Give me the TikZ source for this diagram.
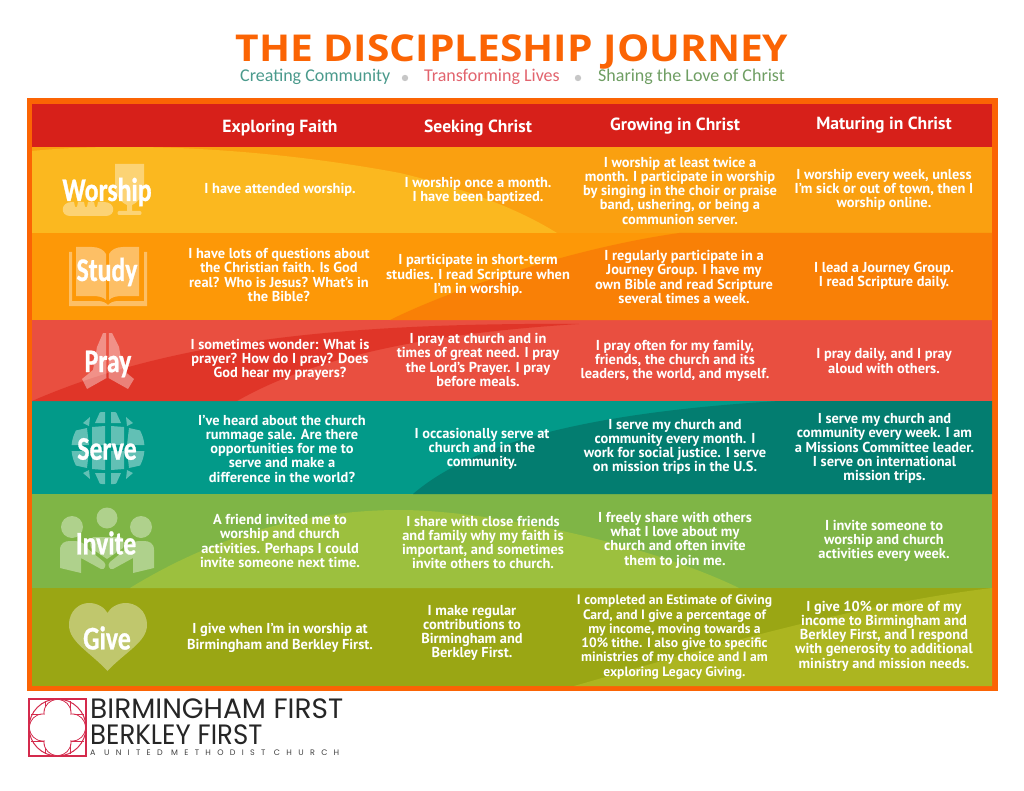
\documentclass[tikz,border=0pt]{standalone}
\usepackage{fontspec}
\setmainfont{PT Sans}
\newfontfamily\titlefont[FakeStretch=1.1]{Open Sans}
\newfontfamily\subfont{Carlito}
\newfontfamily\rowfont[FakeStretch=0.78,BoldFeatures={FakeBold=0.8}]{Carlito}
\newfontfamily\logofont{Poppins}
\newfontfamily\berkleyfont[FakeStretch=0.93]{Poppins}
\newfontfamily\smallfont[LetterSpace=79]{Poppins}
\definecolor{frameorange}{HTML}{FB6404}
\definecolor{headred}{HTML}{D7201A}
\definecolor{worshipA}{HTML}{FBB81F}
\definecolor{worshipB}{HTML}{FAA010}
\definecolor{studyA}{HTML}{FD9807}
\definecolor{studyB}{HTML}{F98006}
\definecolor{prayA}{HTML}{E94F40}
\definecolor{prayB}{HTML}{E03528}
\definecolor{serveA}{HTML}{029A89}
\definecolor{serveB}{HTML}{037D70}
\definecolor{inviteA}{HTML}{7FB546}
\definecolor{inviteB}{HTML}{9CC03E}
\definecolor{giveA}{HTML}{9AA614}
\definecolor{giveB}{HTML}{ACB520}
\definecolor{logored}{HTML}{D42A4C}
\definecolor{subteal}{HTML}{4A9A8C}
\definecolor{subred}{HTML}{E2646E}
\definecolor{subgreen}{HTML}{6F9E63}
\tikzset{
  celltext/.style={text=white,align=center,inner sep=0pt,yshift=-1pt,font=\fontsize{14.4}{14.25}\selectfont\bfseries},
  headtext/.style={text=white,inner sep=0pt,yshift=-1.5pt,font=\fontsize{17.6}{18}\selectfont\bfseries},
  rowtext/.style={text=white,inner sep=0pt,font=\rowfont\fontsize{33}{33}\selectfont\bfseries},
  iconshape/.style={fill=white,fill opacity=0.38,draw=none},
  subtext/.style={inner sep=0pt,font=\subfont\fontsize{18}{20}\selectfont},
  logotext/.style={inner sep=0pt,anchor=west,text=black!85,font=\logofont\fontsize{28}{28}\selectfont},
}
\begin{document}
\begin{tikzpicture}[x=1pt,y=-1pt]
  \useasboundingbox (0,0) rectangle (1024,791);
  \fill[white] (0,0) rectangle (1024,791);
  % frame and bands
  \fill[frameorange] (27,98) rectangle (998,691);
  \fill[worshipB] (32,147) rectangle (992,233);
  \fill[studyA] (32,233) rectangle (992,320);
  \fill[prayA] (32,320) rectangle (992,401);
  \fill[serveA] (32,401) rectangle (992,494);
  \fill[inviteA] (32,494) rectangle (992,588);
  \fill[giveA] (32,588) rectangle (992,686);
  \fill[worshipA] (32,151) .. controls (110,143) and (250,145) .. (400,173) .. controls (470,190) and (520,210) .. (557,233) -- (32,233) -- cycle;
  \fill[studyB] (390,320) .. controls (440,295) and (560,250) .. (679,233) -- (992,233) -- (992,320) -- cycle;
  \fill[prayB] (32,401) .. controls (150,350) and (300,322) .. (579,324) .. controls (400,335) and (300,365) .. (237,401) -- cycle;
  \fill[serveB] (413,494) .. controls (470,445) and (580,413) .. (779,401) -- (992,401) -- (992,494) -- cycle;
  \fill[inviteB] (130,588) .. controls (200,545) and (290,510) .. (400,510) .. controls (480,510) and (640,540) .. (739,588) -- cycle;
  \fill[giveB] (574,686) .. controls (700,650) and (850,605) .. (992,588) -- (992,686) -- cycle;
  \fill[headred] (32,104) rectangle (992,147);
  % title
  \node[inner sep=0pt,text=frameorange,font=\titlefont\fontsize{37}{37}\selectfont\bfseries] (title) at (512,52) {THE DISCIPLESHIP JOURNEY};
  \node[subtext,text=subteal,anchor=west] (creating) at (240,77) {Creating Community};
  \node[subtext,text=subred,anchor=west] (transforming) at (424,77) {Transforming Lives};
  \node[subtext,text=subgreen,anchor=west] (sharing) at (598,77) {Sharing the Love of Christ};
  \fill[black!22] (405,78) circle (3.2);
  \fill[black!22] (578,78) circle (3.2);
  % headers
  \node[headtext] (exploring) at (280,127) {Exploring Faith};
  \node[headtext] (seeking) at (478,127) {Seeking Christ};
  \node[headtext] (growing) at (675,125) {Growing in Christ};
  \node[headtext] (maturing) at (884,124) {Maturing in Christ};
  % icons
  \path[iconshape] (115,164) -- (144,164) -- (144,186) .. controls (144,196) and (137,203) .. (132,205) -- (132,211) -- (140,211) .. controls (142,211) and (142,215) .. (140,215) -- (119,215) .. controls (117,215) and (117,211) .. (119,211) -- (127,211) -- (127,205) .. controls (122,203) and (115,196) .. (115,186) -- cycle;
  \path[iconshape] (70,216) .. controls (60,216) and (60,202) .. (72,202) -- (74,202) -- (75,207) -- (77,207) -- (78,202) -- (84,202) -- (85,207) -- (87,207) -- (88,202) -- (94,202) -- (95,207) -- (97,207) -- (98,202) -- (104,202) .. controls (116,202) and (116,216) .. (106,216) -- cycle;
  \path[iconshape] (69,252) -- (72,252) -- (72,301) -- (98,301) .. controls (103,301) and (106,303) .. (108,305) .. controls (110,303) and (113,301) .. (118,301) -- (144,301) -- (144,252) -- (147,252) -- (147,306) -- (69,306) -- cycle;
  \path[iconshape] (76,247) -- (92,247) .. controls (99,247) and (104,250) .. (106,254) -- (106,300) .. controls (103,297) and (99,296) .. (92,296) -- (76,296) -- cycle;
  \path[iconshape] (139,247) -- (123,247) .. controls (116,247) and (111,250) .. (109,254) -- (109,300) .. controls (112,297) and (116,296) .. (123,296) -- (139,296) -- cycle;
  \path[iconshape] (103,333) -- (106,333) -- (106.5,378) -- (87,389) -- (82,379) -- (93,370) -- (97,347) -- cycle;
  \path[iconshape] (112,333) -- (109,333) -- (108.5,378) -- (128,389) -- (134,379) -- (123,370) -- (119,347) -- cycle;
  \begin{scope}
    \clip (108,448) circle (36.5);
    \path[iconshape] (95,423) -- (100,412) -- (105,412) -- (105,423) -- cycle;
    \path[iconshape] (121,423) -- (116,412) -- (111,412) -- (111,423) -- cycle;
    \path[iconshape] (83,423) -- (90,417) -- (89,426) -- cycle;
    \path[iconshape] (133,423) -- (126,417) -- (127,426) -- cycle;
    \path[iconshape] (60,434) -- (87,428) -- (89,445) -- (60,445) -- cycle;
    \path[iconshape] (92,427) -- (105,426) -- (105,445) -- (92,445) -- cycle;
    \path[iconshape] (111,426) -- (124,427) -- (124,445) -- (111,445) -- cycle;
    \path[iconshape] (129,428) -- (156,434) -- (156,445) -- (127,445) -- cycle;
    \path[iconshape] (60,462) -- (87,468) -- (89,451) -- (60,451) -- cycle;
    \path[iconshape] (92,469) -- (105,470) -- (105,451) -- (92,451) -- cycle;
    \path[iconshape] (111,470) -- (124,469) -- (124,451) -- (111,451) -- cycle;
    \path[iconshape] (129,468) -- (156,462) -- (156,451) -- (127,451) -- cycle;
    \path[iconshape] (95,473) -- (100,484) -- (105,484) -- (105,473) -- cycle;
    \path[iconshape] (121,473) -- (116,484) -- (111,484) -- (111,473) -- cycle;
    \path[iconshape] (83,473) -- (90,479) -- (89,470) -- cycle;
    \path[iconshape] (133,473) -- (126,479) -- (127,470) -- cycle;
  \end{scope}
  \path[iconshape] (72,527) circle (11);
  \path[iconshape] (107,518) circle (10.5);
  \path[iconshape] (141,527) circle (11);
  \path[iconshape] (60,568) -- (60,550) .. controls (60,543) and (65,541) .. (70,541) -- (75,541) .. controls (82,541) and (86,545) .. (88,549) -- (104,562) .. controls (107,565) and (105,570) .. (101,569) -- (81,558) -- (81,573) -- cycle;
  \path[iconshape] (154,568) -- (154,550) .. controls (154,543) and (149,541) .. (144,541) -- (139,541) .. controls (132,541) and (128,545) .. (126,549) -- (110,562) .. controls (107,565) and (109,570) .. (113,569) -- (133,558) -- (133,573) -- cycle;
  \path[iconshape] (93,537) -- (121,537) .. controls (124,540) and (124,545) .. (123,548) -- (107,559) -- (91,548) .. controls (90,545) and (90,540) .. (93,537) -- cycle;
  \path[iconshape] (107.5,671) .. controls (90,652) and (69,642) .. (69,625) .. controls (69,610) and (80,603) .. (89,603) .. controls (98,603) and (105,608) .. (107.5,613) .. controls (110,608) and (117,603) .. (126,603) .. controls (135,603) and (147,610) .. (147,625) .. controls (147,642) and (125,652) .. (107.5,671) -- cycle;
  % row names
  \node[rowtext] (worship) at (107,192) {Worship};
  \node[rowtext] (study) at (107,272) {Study};
  \node[rowtext] (pray) at (108,364) {Pray};
  \node[rowtext] (serve) at (107,449) {Serve};
  \node[rowtext] (invite) at (106,543) {Invite};
  \node[rowtext] (give) at (107,638) {Give};
  % cells
  \node[celltext] (worship1) at (280,189) {I have attended worship.};
  \node[celltext] (worship2) at (478,190) {I worship once a month.\\I have been baptized.};
  \node[celltext] (worship3) at (680,189.5) {I worship at least twice a\\month.  I participate in worship\\by singing in the choir or praise\\band, ushering, or being a\\communion server.};
  \node[celltext] (worship4) at (884,189) {I worship every week, unless\\I’m sick or out of town, then I\\worship online.};
  \node[celltext] (study1) at (279,274) {I have lots of questions about\\the Christian faith. Is God\\real? Who is Jesus? What’s in\\the Bible?};
  \node[celltext] (study2) at (478,274.5) {I participate in short-term\\studies. I read Scripture when\\I’m in worship.};
  \node[celltext] (study3) at (684,276) {I regularly participate in a\\Journey Group. I have my\\own Bible and read Scripture\\several times a week.};
  \node[celltext] (study4) at (884,275) {I lead a Journey Group.\\I read Scripture daily.};
  \node[celltext] (pray1) at (280,359) {I sometimes wonder: What is\\prayer? How do I pray? Does\\God hear my prayers?};
  \node[celltext] (pray2) at (478,359) {I pray at church and in\\times of great need. I pray\\the Lord’s Prayer. I pray\\before meals.};
  \node[celltext] (pray3) at (675,360) {I pray often for my family,\\friends, the church and its\\leaders, the world, and myself.};
  \node[celltext] (pray4) at (884,360) {I pray daily, and I pray\\[1pt]aloud with others.};
  \node[celltext] (serve1) at (282,447.5) {I’ve heard about the church\\rummage sale. Are there\\opportunities for me to\\serve and make a\\difference in the world?};
  \node[celltext] (serve2) at (482,448) {I occasionally serve at\\church and in the\\community.};
  \node[celltext] (serve3) at (675,446) {I serve my church and\\community every month.  I\\work for social justice.  I serve\\on mission trips in the U.S.};
  \node[celltext] (serve4) at (884.5,447.5) {I serve my church and\\community every week.  I am\\a Missions Committee leader.\\I serve on international\\mission trips.};
  \node[celltext] (invite1) at (280,540) {A friend invited me to\\worship and church\\activities.  Perhaps I could\\invite someone next time.};
  \node[celltext] (invite2) at (483,541.5) {I share with close friends\\and family why my faith is\\important, and sometimes\\invite others to church.};
  \node[celltext] (invite3) at (675,539) {I freely share with others\\what I love about my\\church and often invite\\them to join me.};
  \node[celltext] (invite4) at (884,540) {I invite someone to\\worship and church\\activities every week.};
  \node[celltext] (give1) at (280,637) {I give when I’m in worship at\\[2pt]Birmingham and Berkley First.};
  \node[celltext] (give2) at (472,632) {I make regular\\contributions to\\Birmingham and\\Berkley First.};
  \node[celltext,font=\fontsize{13.6}{14.25}\selectfont\bfseries] (give3) at (674.5,636) {I completed an Estimate of Giving\\Card, and I give a percentage of\\my income, moving towards a\\10\% tithe. I also give to specific\\ministries of my choice and I am\\exploring Legacy Giving.};
  \node[celltext] (give4) at (884,635) {I give 10\% or more of my\\income to Birmingham and\\Berkley First, and I respond\\with generosity to additional\\ministry and mission needs.};
  % logo
  \draw[logored,line width=1.3pt] (29,699) rectangle (86,756);
  \draw[logored,line width=1pt] (57.5,727.5) circle (28.5);
  \draw[logored,line width=1pt] (45,701) -- (45,714) -- (31,714);
  \draw[logored,line width=1pt] (70,701) -- (70,714) -- (84,714);
  \draw[logored,line width=1pt] (45,754) -- (45,741) -- (31,741);
  \draw[logored,line width=1pt] (70,754) -- (70,741) -- (84,741);
  \filldraw[draw=logored,fill=white,line width=1pt] (57.5,713) circle (13.5);
  \filldraw[draw=logored,fill=white,line width=1pt] (57.5,742) circle (13.5);
  \filldraw[draw=logored,fill=white,line width=1pt] (43,727.5) circle (13.5);
  \filldraw[draw=logored,fill=white,line width=1pt] (72,727.5) circle (13.5);
  \fill[white] (57.5,713) circle (13);
  \fill[white] (57.5,742) circle (13);
  \fill[white] (43,727.5) circle (13);
  \fill[white] (72,727.5) circle (13);
  \fill[white] (45,714) rectangle (70,741);
  \node[logotext] (first) at (90,709) {BIRMINGHAM FIRST};
  \node[logotext,font=\berkleyfont\fontsize{28}{28}\selectfont] (berkley) at (90,735) {BERKLEY FIRST};
  \node[inner sep=0pt,anchor=west,text=black!75,font=\smallfont\fontsize{8}{8}\selectfont] (methodist) at (90,753) {A UNITED METHODIST CHURCH};
\end{tikzpicture}
\end{document}
